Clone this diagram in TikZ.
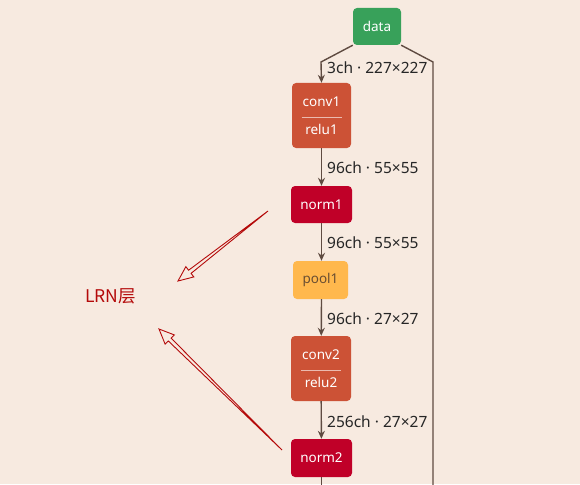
\documentclass[tikz,border=0pt]{standalone}
\usepackage{fontspec}
\setmainfont{Noto Sans}
\newfontfamily\cjkfont{Noto Sans CJK SC}
\usetikzlibrary{arrows.meta,calc}

\definecolor{paper}{RGB}{247,234,224}
\definecolor{datagreen}{RGB}{56,161,90}
\definecolor{convred}{RGB}{204,82,54}
\definecolor{normred}{RGB}{192,0,40}
\definecolor{poolamber}{RGB}{255,184,77}
\definecolor{pooltext}{RGB}{105,78,50}
\definecolor{edgegray}{RGB}{95,75,65}
\definecolor{notered}{RGB}{180,10,10}

\tikzset{
  layer/.style={rounded corners=4pt, text=white, inner sep=0pt,
    font=\fontsize{13.5}{15}\selectfont},
  flow/.style={draw=edgegray, line width=1.4pt, -{Stealth[length=8pt,width=7pt]}},
  wire/.style={draw=edgegray, line width=1.4pt},
  dims/.style={anchor=west, inner sep=0pt, text=black!85,
    font=\fontsize{15.5}{17}\selectfont},
  divider/.style={draw=white!60!convred, line width=0.8pt},
  hollow/.style={draw=notered, line width=0.9pt, line join=miter},
}

% open wedge arrow from #1 (tail) to #2 (tip)
\newcommand{\wedgearrow}[2]{%
  \coordinate (wb) at ($(#2)!15pt!(#1)$);
  \draw[hollow] (#1) -- ($(wb)!2pt!90:(#2)$) -- ($(wb)!6.5pt!90:(#2)$) -- (#2)
    -- ($(wb)!6.5pt!-90:(#2)$) -- ($(wb)!2pt!-90:(#2)$) -- cycle;
}

\begin{document}
\begin{tikzpicture}[x=1pt,y=-1pt]
\useasboundingbox (0,0) rectangle (580,484);
\fill[paper] (0,0) rectangle (580,484);
\clip (0,0) rectangle (580,484);

% layers
\node[layer, fill=datagreen, minimum width=48pt, minimum height=37pt] (data) at (377,26.5) {data};
\node[layer, fill=convred, minimum width=59pt, minimum height=65pt, align=center] (conv1) at (321.5,115.5) {conv1\\[13pt]relu1};
\node[layer, fill=normred, minimum width=61pt, minimum height=37pt] (norm1) at (321.5,204.5) {norm1};
\node[layer, fill=poolamber, text=pooltext, minimum width=55pt, minimum height=38pt] (pool1) at (320.5,280) {pool1};
\node[layer, fill=convred, minimum width=60pt, minimum height=65pt, align=center] (conv2) at (321,368.5) {conv2\\[13pt]relu2};
\node[layer, fill=normred, minimum width=61pt, minimum height=38pt] (norm2) at (321.5,458) {norm2};

\draw[divider] ($(conv1.center)+(-20,1.5)$) -- ($(conv1.center)+(20,1.5)$);
\draw[divider] ($(conv2.center)+(-20,1.5)$) -- ($(conv2.center)+(20,1.5)$);

% connectors
\coordinate (forkL) at (321,62);
\coordinate (forkR) at (433,62);
\coordinate (downR) at (433,495);
\coordinate (downC) at (321.5,495);
\draw[flow] (data.south west) -- (forkL) -- (conv1.north);
\draw[wire] (data.south east) -- (forkR) -- (downR);
\draw[flow] (conv1) -- (norm1);
\draw[flow] (norm1) -- (norm1 |- pool1.north);
\draw[flow] (pool1.south -| norm1) -- (conv2);
\draw[flow] (conv2) -- (norm2);
\draw[wire] (norm2) -- (downC);

% blob sizes
\node[dims] (d0) at (327,68) {3ch · 227×227};
\node[dims] (d1) at (327,168) {96ch · 55×55};
\node[dims] (d2) at (327,243) {96ch · 55×55};
\node[dims] (d3) at (327,319) {96ch · 27×27};
\node[dims] (d4) at (327,422) {256ch · 27×27};

% note
\node[text=notered, font=\cjkfont\fontsize{17.5}{19}\selectfont] (lrn) at (110.5,296) {LRN层};
\coordinate (tailA) at (268,211);
\coordinate (tipA) at (178,281);
\coordinate (tailB) at (282,450);
\coordinate (tipB) at (159,329);
\wedgearrow{tailA}{tipA}
\wedgearrow{tailB}{tipB}
\end{tikzpicture}
\end{document}
